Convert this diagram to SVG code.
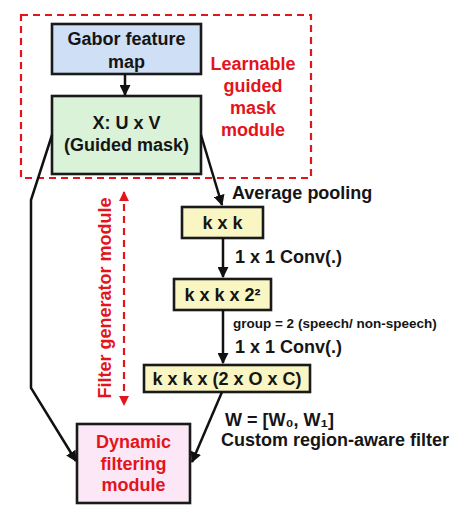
<svg xmlns="http://www.w3.org/2000/svg" width="474" height="519" viewBox="0 0 474 519">
<style>
text{font-family:"Liberation Sans","DejaVu Sans",Arial,sans-serif;font-weight:bold;fill:#151515}
.lbl{font-size:18px}
.mid{text-anchor:middle}
.red{fill:#e3141c}
.box{stroke:#1a1a1a;stroke-width:2.6}
.con{fill:none;stroke:#111;stroke-width:2.5}
</style>
<defs>
<marker id="ah" viewBox="0 0 10 10" refX="9" refY="5" markerWidth="4.4" markerHeight="4.4" orient="auto" markerUnits="strokeWidth">
<path d="M0,0 L10,5 L0,10 z" fill="#111"/>
</marker>
<marker id="rh" viewBox="0 0 10 10" refX="9" refY="5" markerWidth="4.5" markerHeight="4.5" orient="auto-start-reverse" markerUnits="strokeWidth">
<path d="M0,0 L10,5 L0,10 z" fill="#e3141c"/>
</marker>
</defs>

<g id="learnable-module">
<rect x="21" y="15" width="290" height="163" fill="none" stroke="#e3141c" stroke-width="2.2" stroke-dasharray="7,5"/>
<text class="lbl mid red" x="253" y="70">Learnable</text>
<text class="lbl mid red" x="253" y="92">guided</text>
<text class="lbl mid red" x="253" y="114">mask</text>
<text class="lbl mid red" x="253" y="136">module</text>
</g>

<g id="gabor">
<rect class="box" x="52" y="24" width="149" height="50" fill="#cfe0f6"/>
<text class="lbl mid" x="126.5" y="45">Gabor feature</text>
<text class="lbl mid" x="126.5" y="68">map</text>
</g>

<g id="guided-mask">
<rect class="box" x="52" y="96" width="149" height="78" fill="#d9f2d8"/>
<text class="lbl mid" x="126.5" y="129">X: U x V</text>
<text class="lbl mid" x="126.5" y="151">(Guided mask)</text>
</g>

<g id="kxk">
<rect class="box" x="182" y="207" width="81" height="31" fill="#f9f6c4"/>
<text class="lbl mid" x="222.5" y="229">k x k</text>
</g>

<g id="kxkx4">
<rect class="box" x="174" y="279" width="97" height="31" fill="#f9f6c4"/>
<text class="lbl mid" x="222.5" y="301">k x k x 2²</text>
</g>

<g id="kxkx2OC">
<rect class="box" x="144" y="365" width="166" height="27" fill="#f9f6c4"/>
<text class="lbl mid" x="227" y="385">k x k x (2 x O x C)</text>
</g>

<g id="dynamic">
<rect class="box" x="77" y="424" width="113" height="79" fill="#fbe7f5"/>
<text class="lbl mid red" x="133.5" y="448">Dynamic</text>
<text class="lbl mid red" x="133.5" y="470">filtering</text>
<text class="lbl mid red" x="133.5" y="491">module</text>
</g>

<g id="filter-generator">
<text class="lbl mid red" transform="translate(111,298) rotate(-90)">Filter generator module</text>
<line x1="124" y1="192" x2="124" y2="405" stroke="#e3141c" stroke-width="2.2" stroke-dasharray="7,5" marker-start="url(#rh)" marker-end="url(#rh)"/>
</g>

<g id="connectors">
<line class="con" x1="125" y1="74" x2="125" y2="95" marker-end="url(#ah)"/>
<polyline class="con" points="52,135 31,200 31,388 76,461" marker-end="url(#ah)"/>
<line class="con" x1="201" y1="135" x2="222" y2="205" marker-end="url(#ah)"/>
<line class="con" x1="223" y1="238" x2="223" y2="277" marker-end="url(#ah)"/>
<line class="con" x1="223" y1="310" x2="223" y2="363" marker-end="url(#ah)"/>
<line class="con" x1="222" y1="392" x2="192" y2="462" marker-end="url(#ah)"/>
</g>

<g id="labels">
<text class="lbl" x="232" y="199">Average pooling</text>
<text class="lbl" x="235" y="263">1 x 1 Conv(.)</text>
<text x="233" y="328" font-size="13.5">group = 2 (speech/ non-speech)</text>
<text class="lbl" x="235" y="353">1 x 1 Conv(.)</text>
<text class="lbl" x="225" y="426">W = [W₀, W₁]</text>
<text class="lbl" x="221" y="446">Custom region-aware filter</text>
</g>
</svg>
